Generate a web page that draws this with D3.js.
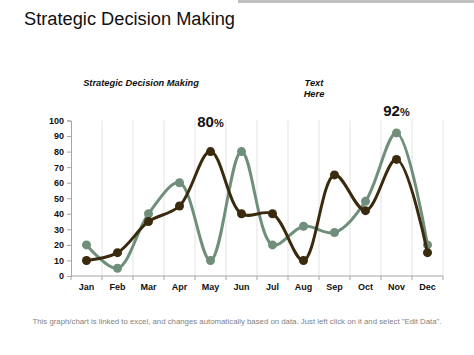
<!DOCTYPE html>
<html><head><meta charset="utf-8">
<script src="https://cdn.jsdelivr.net/npm/d3@7"></script>
<style>body{margin:0;background:#fff}svg{display:block;font-family:"Liberation Sans",Arial,sans-serif}</style>
</head><body>
<svg id="c" width="474" height="355"></svg>
<script>
const months = ["Jan","Feb","Mar","Apr","May","Jun","Jul","Aug","Sep","Oct","Nov","Dec"];
const seriesDark = [10,15,35,45,80,40,40,10,65,42,75,15];
const seriesGreen = [20,5,40,60,10,80,20,32,28,48,92,20];
const yTicks = [0,10,20,30,40,50,60,70,80,90,100];
const callouts = [{month:"May", text:"80"},{month:"Nov", text:"92"}];

const svg = d3.select("#c");
const x = d3.scaleBand().domain(months).range([71,443]);
const y = d3.scaleLinear().domain([0,100]).range([276,120.5]);

// top gray bar
svg.append("rect").attr("x",238).attr("y",0).attr("width",236).attr("height",3).attr("fill","#c0c0c0");

svg.append("text").attr("x",24).attr("y",25).attr("font-size",18).attr("fill","#111")
  .attr("textLength",211).attr("lengthAdjust","spacingAndGlyphs")
  .text("Strategic Decision Making");

// vertical gridlines
const bounds = months.slice(1).map(m=>x(m)).concat([x.range()[1]]);
svg.append("g").selectAll("line").data(bounds).join("line")
  .attr("x1",d=>d).attr("x2",d=>d).attr("y1",y(100)).attr("y2",y(0))
  .attr("stroke","#e3e3e3").attr("stroke-width",1);

// axes
const yAxis = svg.append("g").attr("transform","translate(71,0)")
  .call(d3.axisLeft(y).tickValues(yTicks).tickSize(4).tickPadding(3));
yAxis.select(".domain").attr("stroke","#a6a6a6");
yAxis.selectAll(".tick line").attr("stroke","#a6a6a6");
yAxis.selectAll("text").attr("font-size",9).attr("font-weight","bold").attr("fill","#111").attr("font-family","Liberation Sans, Arial, sans-serif");

const xAxisG = svg.append("g").attr("transform","translate(0,276)");
xAxisG.append("line").attr("x1",71).attr("x2",443).attr("stroke","#a6a6a6");
xAxisG.selectAll("line.t").data([x.range()[0]].concat(bounds)).join("line").attr("class","t")
  .attr("x1",d=>d).attr("x2",d=>d).attr("y1",0).attr("y2",4).attr("stroke","#a6a6a6");
xAxisG.selectAll("text").data(months).join("text")
  .attr("x",d=>x(d)+x.bandwidth()/2).attr("y",14).attr("text-anchor","middle")
  .attr("font-size",9).attr("font-weight","bold").attr("fill","#111").text(d=>d);

const line = d3.line().x((d,i)=>x(months[i])+x.bandwidth()/2).y(d=>y(d)).curve(d3.curveCatmullRom.alpha(0.5));

function drawSeries(vals,color){
  svg.append("path").datum(vals).attr("d",line).attr("fill","none").attr("stroke",color).attr("stroke-width",3);
  svg.append("g").selectAll("circle").data(vals).join("circle")
    .attr("cx",(d,i)=>x(months[i])+x.bandwidth()/2).attr("cy",d=>y(d)).attr("r",4.5).attr("fill",color);
}
drawSeries(seriesGreen,"#6f8f7b");
drawSeries(seriesDark,"#3a2a0e");

// callouts
callouts.forEach(c=>{
  const cx = x(c.month)+x.bandwidth()/2;
  const yy = c.month==="May"?127:116;
  const t = svg.append("text").attr("x",cx).attr("y",yy).attr("text-anchor","middle").attr("font-weight","bold").attr("fill","#111");
  t.append("tspan").attr("font-size",15).text(c.text);
  t.append("tspan").attr("font-size",11).text("%");
});

const it = {fs:9.3};
svg.append("text").attr("x",141).attr("y",86).attr("text-anchor","middle").attr("font-size",it.fs)
  .attr("font-style","italic").attr("font-weight","bold").attr("fill","#111").text("Strategic Decision Making");
svg.append("text").attr("x",314).attr("y",86).attr("text-anchor","middle").attr("font-size",it.fs)
  .attr("font-style","italic").attr("font-weight","bold").attr("fill","#111").text("Text");
svg.append("text").attr("x",314).attr("y",97).attr("text-anchor","middle").attr("font-size",it.fs)
  .attr("font-style","italic").attr("font-weight","bold").attr("fill","#111").text("Here");

svg.append("text").attr("x",237).attr("y",324).attr("text-anchor","middle").attr("font-size",7.8).attr("fill","#7f7f7f")
  .text("This graph/chart is linked to excel, and changes automatically based on data. Just left click on it and select \"Edit Data\".");
</script>
</body></html>
